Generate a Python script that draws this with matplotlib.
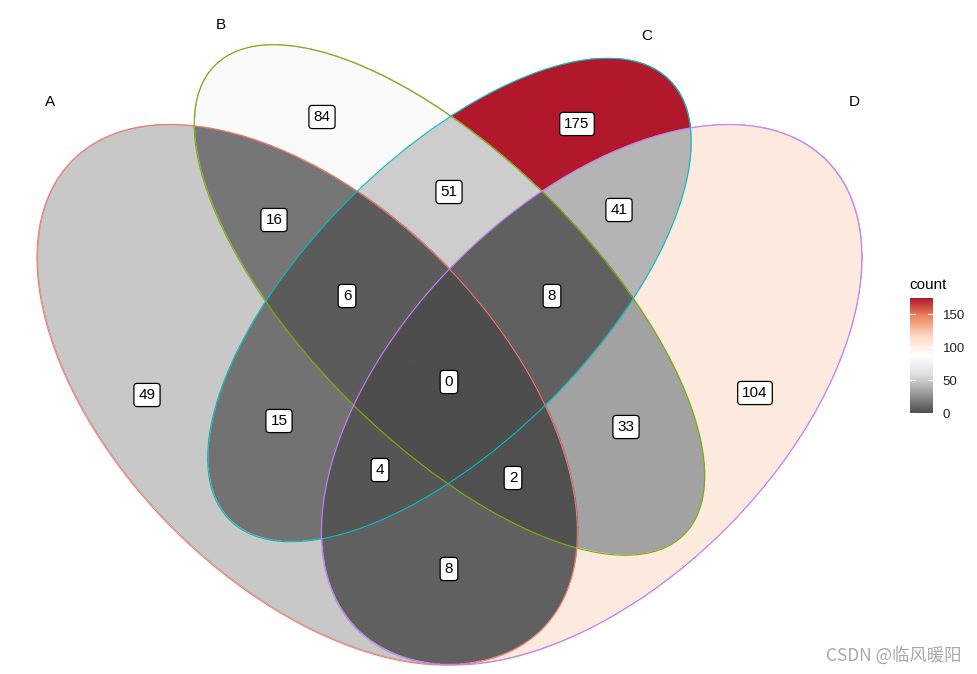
import numpy as np
import matplotlib
matplotlib.use("Agg")
import matplotlib.pyplot as plt
from matplotlib.patches import Ellipse
from matplotlib.colors import LinearSegmentedColormap

plt.rcParams['font.family'] = ['Liberation Sans', 'DejaVu Sans']

# DATA
sets = ["A", "B", "C", "D"]
# region key: membership over (A,B,C,D)
regions = ["1000", "0100", "0010", "0001",
           "1100", "1010", "1001", "0110", "0101", "0011",
           "1110", "1101", "1011", "0111", "1111"]
counts = [49, 84, 175, 104,
          16, 15, 8, 51, 33, 41,
          6, 2, 4, 8, 0]
cbar_ticks = [0, 50, 100, 150]

# ellipse shapes
ex = [0.35, 0.5, 0.5, 0.65]
ey = [0.47, 0.57, 0.57, 0.47]
ea = [0.35, 0.35, 0.328, 0.35]
eb = [0.20, 0.15, 0.15, 0.20]
erot = [135, 135, 45, 45]
edge_cols = ["#F8766D", "#7CAE00", "#00BFC4", "#C77CFF"]

# layout: pixel -> data mapping
S = 948
def px(x, y):
    return 0.065 + (x - 37) / S, 0.185 + (665 - y) / S

set_label_pos = [px(50, 102), px(221, 25), px(647, 36), px(854, 102)]
region_label_pos = [px(147, 395), px(322, 117), px(577, 124), px(755, 393),
                    px(274, 220), px(279, 421), px(449, 569), px(449, 192),
                    px(626, 427), px(619, 210),
                    px(347, 296), px(513, 478), px(380, 470), px(552, 296),
                    px(449, 382)]

cmap = LinearSegmentedColormap.from_list(
    "rdgy", ["#4D4D4D", "#999999", "#E0E0E0", "#FFFFFF", "#FDDBC7", "#EF8A62", "#B2182B"])
vmin, vmax = 0, max(counts)

fig = plt.figure(figsize=(9.78, 6.74), dpi=100)
x0, x1 = 0.055, 0.945
y0, y1 = 0.175, 0.849
left = (37 - (0.065 - x0) * S) / 978
width = (x1 - x0) * S / 978
bottom = (674 - 665 - (0.185 - y0) * S) / 674
height = (y1 - y0) * S / 674
ax = fig.add_axes([left, bottom, width, height])
ax.set_xlim(x0, x1)
ax.set_ylim(y0, y1)
ax.axis("off")

# membership grid for region fills
n = 1600
gx = np.linspace(x0, x1, n)
gy = np.linspace(y0, y1, int(n * (y1 - y0) / (x1 - x0)))
X, Y = np.meshgrid(gx, gy)
key = np.zeros(X.shape, dtype=int)
for i in range(4):
    t = np.deg2rad(erot[i])
    dx, dy = X - ex[i], Y - ey[i]
    u = dx * np.cos(t) + dy * np.sin(t)
    v = -dx * np.sin(t) + dy * np.cos(t)
    key = key * 2 + ((u / ea[i]) ** 2 + (v / eb[i]) ** 2 <= 1).astype(int)

img = np.zeros(X.shape + (4,))
for r, c in zip(regions, counts):
    img[key == int(r, 2)] = cmap((c - vmin) / (vmax - vmin))
ax.imshow(img, extent=(x0, x1, y0, y1), origin="lower", interpolation="bilinear",
          zorder=1, aspect="auto")

for i in range(4):
    ax.add_patch(Ellipse((ex[i], ey[i]), 2 * ea[i], 2 * eb[i], angle=erot[i],
                         fill=False, edgecolor=edge_cols[i], lw=0.8, zorder=2))
    ax.text(set_label_pos[i][0], set_label_pos[i][1], sets[i], ha="center", va="center",
            fontsize=11, color="black")

for (cx, cy), c in zip(region_label_pos, counts):
    ax.text(cx, cy, str(c), ha="center", va="center", fontsize=11, zorder=3,
            bbox=dict(boxstyle="round,pad=0.3,rounding_size=0.22", fc="white",
                      ec="black", lw=0.9))

# colorbar
cax = fig.add_axes([910 / 978, 1 - 413 / 674, 23 / 978, 115 / 674])
grad = np.linspace(vmin, vmax, 256).reshape(-1, 1)
cax.imshow(grad, extent=(0, 1, vmin, vmax), origin="lower", aspect="auto", cmap=cmap)
for t in cbar_ticks:
    cax.plot([0, 0.2], [t, t], color="white", lw=0.8)
    cax.plot([0.8, 1], [t, t], color="white", lw=0.8)
cax.set_xlim(0, 1)
cax.set_ylim(vmin, vmax)
cax.set_xticks([])
cax.yaxis.tick_right()
cax.set_yticks(cbar_ticks)
cax.tick_params(axis="y", length=0, labelsize=9.5, pad=7, labelcolor="#222222")
for sp in cax.spines.values():
    sp.set_visible(False)
fig.text(909 / 978, 1 - 285 / 674, "count", fontsize=11, va="center", ha="left")

fig.text(962 / 978, 1 - 655 / 674, "CSDN @临风暖阳", fontsize=12.5, color="#A8A8A8",
         ha="right", va="center", family=["Noto Sans CJK SC", "DejaVu Sans"])

fig.savefig("out.png", dpi=100)
